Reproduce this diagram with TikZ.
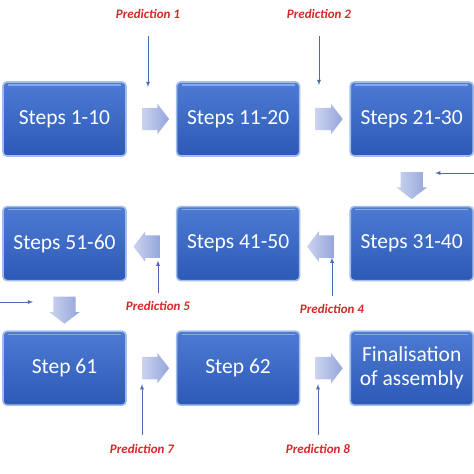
\documentclass[tikz,border=0pt]{standalone}
\usepackage{fontspec}
\setmainfont{Carlito}
\usepackage{xcolor}
\usetikzlibrary{shapes.arrows, arrows, positioning, calc}

\definecolor{boxtop}{HTML}{4D7BD2}
\definecolor{boxbottom}{HTML}{2D59B7}
\definecolor{boxedge}{HTML}{A3BDEA}
\definecolor{flowlight}{HTML}{CBD3EF}
\definecolor{flowdark}{HTML}{93A5DB}
\definecolor{predred}{HTML}{D42828}
\definecolor{predblue}{HTML}{4A69AE}

\begin{document}
\begin{tikzpicture}[
    x=1pt, y=1pt,
    node distance=49pt,
    stage/.style={rectangle, rounded corners=4pt, draw=boxedge, line width=1.6pt,
        top color=boxtop, bottom color=boxbottom, text=white, align=center,
        minimum width=123pt, minimum height=74pt, font=\fontsize{21.5}{24}\selectfont,
        path picture={\draw[white, opacity=0.35, line width=1.2pt]
            ([shift={(5pt,-3pt)}]path picture bounding box.north west) --
            ([shift={(-5pt,-3pt)}]path picture bounding box.north east);}},
    flow/.style={single arrow, single arrow head extend=4pt, single arrow tip angle=105,
        inner xsep=0pt, inner ysep=11pt, minimum height=27pt,
        left color=flowlight, right color=flowdark, draw=none},
    downflow/.style={flow, shape border rotate=270, inner xsep=11pt, inner ysep=0pt},
    pred/.style={text=predred, font=\fontsize{13}{15}\selectfont\bfseries\itshape},
    predarrow/.style={draw=predblue, line width=0.8pt, ->, >=latex}
]
\useasboundingbox (0,0) rectangle (474,474);

% Stages
\node[stage] (s1) at (64.5,355) {Steps 1-10};
\node[stage, right=of s1] (s2) {Steps 11-20};
\node[stage, right=of s2] (s3) {Steps 21-30};
\node[stage, below=of s3] (s4) {Steps 31-40};
\node[stage, left=of s4] (s5) {Steps 41-50};
\node[stage, left=of s5] (s6) {Steps 51-60};
\node[stage, below=of s6] (s7) {Step 61};
\node[stage, right=of s7] (s8) {Step 62};
\node[stage, right=of s8] (s9) {Finalisation\\of assembly};

% Block arrows between stages
\node[flow] (a12) at ($(s1.east)!0.5!(s2.west)$) {};
\node[flow] (a23) at ($(s2.east)!0.5!(s3.west)$) {};
\node[downflow] (a34) at ($(s3.south)!0.5!(s4.north)$) {};
\node[flow, shape border rotate=180] (a45) at ($(s4.west)!0.5!(s5.east)+(0,-3)$) {};
\node[flow, shape border rotate=180] (a56) at ($(s5.west)!0.5!(s6.east)+(0,-3)$) {};
\node[downflow] (a67) at ($(s6.south)!0.5!(s7.north)$) {};
\node[flow] (a78) at ($(s7.east)!0.5!(s8.west)$) {};
\node[flow] (a89) at ($(s8.east)!0.5!(s9.west)$) {};

% Predictions
\node[pred] (p1) at (148,460) {Prediction 1};
\node[pred] (p2) at (319,460) {Prediction 2};
\coordinate (p3) at (474,301);
\node[pred] (p4) at (332,165) {Prediction 4};
\node[pred] (p5) at (158,168) {Prediction 5};
\coordinate (p6) at (0,172);
\node[pred] (p7) at (142,25) {Prediction 7};
\node[pred] (p8) at (318,25) {Prediction 8};

\draw[predarrow] ([yshift=-14pt]p1.south) -- ([yshift=32pt]a12.center -| p1);
\draw[predarrow] ([yshift=-14pt]p2.south) -- ([yshift=34pt]a23.center -| p2);
\draw[predarrow] (p3) -- ([xshift=23.5pt]a34.center |- p3);
\draw[predarrow] ([yshift=5pt]p4.north) -- ([yshift=-11pt]a45.center -| p4);
\draw[predarrow] ([yshift=5pt]p5.north) -- ([yshift=-14pt]a56.center -| p5);
\draw[predarrow] (p6) -- ([xshift=-31.5pt]a67.center |- p6);
\draw[predarrow] ([yshift=6pt]p7.north) -- ([yshift=-16pt]a78.center -| p7);
\draw[predarrow] ([yshift=6pt]p8.north) -- ([yshift=-16pt]a89.center -| p8);

\end{tikzpicture}
\end{document}
